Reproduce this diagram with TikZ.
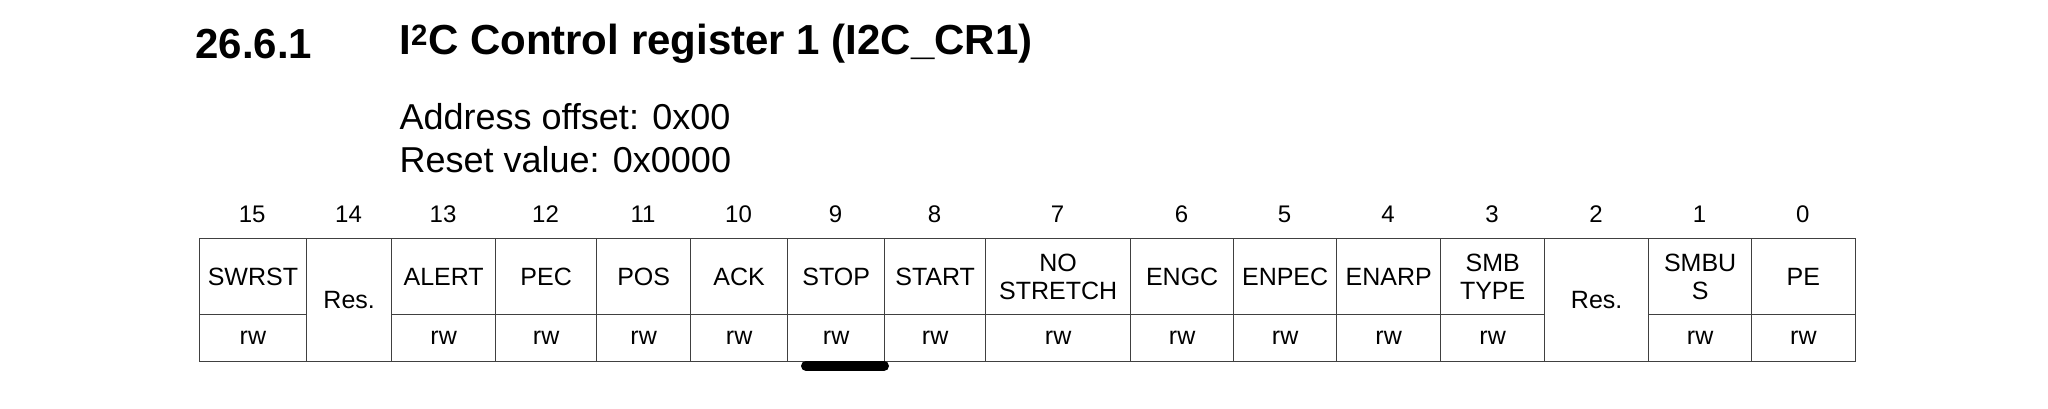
\documentclass[tikz,border=0pt]{standalone}
\usepackage{fontspec}
\setmainfont{Liberation Sans}
\begin{document}
\begin{tikzpicture}[x=1pt,y=-1pt,
  cellbox/.style={draw=black!75,line width=1.3pt,minimum height=#1,inner sep=0pt,anchor=north west,font=\fontsize{25}{28}\selectfont,align=center},
  bitnum/.style={font=\fontsize{24}{28}\selectfont},
  ]
\useasboundingbox (0,0) rectangle (2048,409);
\node[anchor=west,font=\fontsize{42}{46}\bfseries] (num) at (192,44) {26.6.1};
\node[anchor=west,font=\fontsize{42}{46}\bfseries] (ttl) at (396,44) {I\textsuperscript{2}C Control register 1 (I2C\_CR1)};
\node[anchor=west,font=\fontsize{36}{40}\selectfont] (addr) at (396,117) {Address offset: 0x00};
\node[anchor=west,font=\fontsize{36}{40}\selectfont] (rst) at (396,160) {Reset value: 0x0000};
\def\ytop{238}\def\ymid{314}\def\ybot{361}
\foreach \i/\xa/\xb/\lab/\acc in {
 15/198.5/306/SWRST/rw, 14/306/391/Res./, 13/391/495/ALERT/rw, 12/495/596/PEC/rw,
 11/596/690/POS/rw, 10/690/787/ACK/rw, 9/787/884/STOP/rw, 8/884/985/START/rw,
 7/985/1130/{NO\\STRETCH}/rw, 6/1130/1233/ENGC/rw, 5/1233/1336/ENPEC/rw, 4/1336/1440/ENARP/rw,
 3/1440/1544/{SMB\\TYPE}/rw, 2/1544/1648/Res./, 1/1648/1751/{SMBU\\S}/rw, 0/1751/1854.5/PE/rw}{
  \node[bitnum] (b\i) at ({(\xa+\xb)/2},214) {\i};
  \ifx\acc\empty
    \node[cellbox=123pt,minimum width={\xb-\xa}] (f\i) at (\xa,\ytop) {\lab};
  \else
    \node[cellbox=76pt,minimum width={\xb-\xa}] (f\i) at (\xa,\ytop) {\lab};
    \node[cellbox=47pt,minimum width={\xb-\xa}] (a\i) at (\xa,\ymid) {\acc};
  \fi
}
\coordinate (m1) at (806,366);
\coordinate (m2) at (884,366);
\draw[line width=10pt,line cap=round] (m1) -- (m2);
\end{tikzpicture}
\end{document}
